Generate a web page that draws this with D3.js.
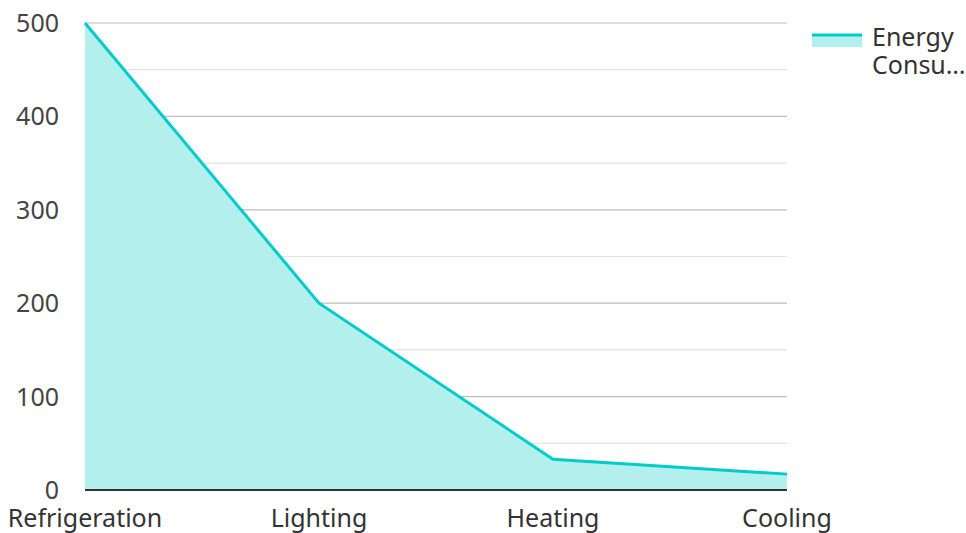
<!DOCTYPE html>
<html><head><meta charset="utf-8">
<script src="https://cdn.jsdelivr.net/npm/d3@7"></script>
<style>body{margin:0;background:#fff;}svg{display:block;font-family:"Noto Sans","Open Sans",sans-serif;}</style>
</head><body><svg id="c" width="966" height="533"></svg>
<script>
const categories = ["Refrigeration","Lighting","Heating","Cooling"];
const values = [500,200,33,17];
const yTicks = [0,100,200,300,400,500];
const minorTicks = [50,150,250,350,450];
const seriesName = "Energy Consumption";

const svg = d3.select("#c");
const L=85,R=787,T=23,B=490;
const x = d3.scalePoint().domain(categories).range([L,R]);
const y = d3.scaleLinear().domain([0,500]).range([B,T]);

svg.append("g").selectAll("line").data(minorTicks).join("line")
 .attr("x1",L).attr("x2",R).attr("y1",d=>y(d)).attr("y2",d=>y(d))
 .attr("stroke","#e3e3e3").attr("stroke-width",1.2);
svg.append("g").selectAll("line").data(yTicks.filter(d=>d>0)).join("line")
 .attr("x1",L).attr("x2",R).attr("y1",d=>y(d)).attr("y2",d=>y(d))
 .attr("stroke","#bdbdbd").attr("stroke-width",1.2);

const data = categories.map((c,i)=>({c,v:values[i]}));
svg.append("path").datum(data)
 .attr("d",d3.area().x(d=>x(d.c)).y0(B).y1(d=>y(d.v)))
 .attr("fill","#b2efed");
svg.append("path").datum(data)
 .attr("d",d3.line().x(d=>x(d.c)).y(d=>y(d.v)))
 .attr("fill","none").attr("stroke","#00cccc").attr("stroke-width",3);

svg.append("line").attr("x1",L).attr("x2",R).attr("y1",B).attr("y2",B)
 .attr("stroke","#333").attr("stroke-width",2);

svg.append("g").selectAll("text").data(yTicks).join("text")
 .attr("x",59).attr("y",d=>y(d)+9).attr("text-anchor","end")
 .attr("font-size",25).attr("fill","#444").text(d=>d);
svg.append("g").selectAll("text").data(categories).join("text")
 .attr("x",d=>x(d)).attr("y",527).attr("text-anchor","middle")
 .attr("font-size",25).attr("fill","#333").text(d=>d);

const lg = svg.append("g");
lg.append("rect").attr("x",812).attr("y",36).attr("width",50).attr("height",11).attr("fill","#b2efed");
lg.append("line").attr("x1",812).attr("x2",862).attr("y1",35).attr("y2",35).attr("stroke","#00cccc").attr("stroke-width",3);
lg.append("text").attr("x",872).attr("y",46).attr("font-size",25).attr("fill","#333").text("Energy");
lg.append("text").attr("x",872).attr("y",74).attr("font-size",25).attr("fill","#333").text("Consu…");
lg.append("title").text(seriesName);
</script></body></html>
